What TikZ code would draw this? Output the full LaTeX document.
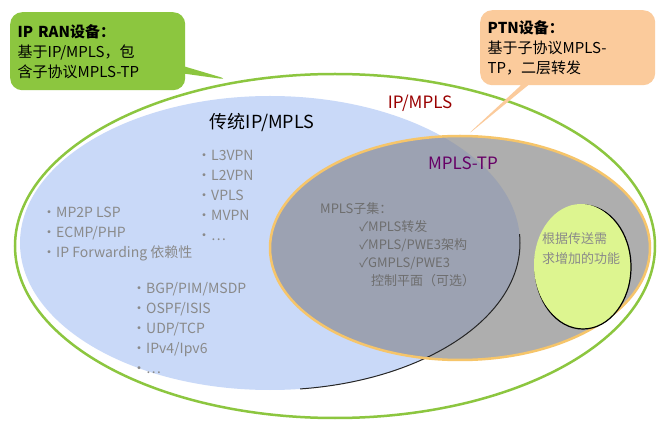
\documentclass[tikz,border=0pt]{standalone}
\usepackage{fontspec}
\setmainfont{Noto Sans CJK SC}
\usetikzlibrary{shapes.callouts}
\definecolor{outg}{HTML}{8CC63F}
\definecolor{blue1}{HTML}{C9D9F8}
\definecolor{grayf}{HTML}{AEAEAE}
\definecolor{ovl}{HTML}{9CA2B2}
\definecolor{orng}{HTML}{F6C56A}
\definecolor{lgreen}{HTML}{DDF590}
\definecolor{peach}{HTML}{FBCB9C}
\definecolor{txtg}{HTML}{8A8A8A}
\definecolor{txtd}{HTML}{6E6E6E}
\tikzset{
 lst/.style={anchor=north west,align=left,text=txtg,font=\fontsize{14}{20}\selectfont,inner sep=0pt},
 lbl/.style={font=\fontsize{17}{19}\selectfont,inner sep=0pt},
 call/.style={rectangle callout,rounded corners=12pt,align=left,anchor=north west,font=\fontsize{15}{20}\selectfont,inner sep=7pt,text width=160pt}
}
\begin{document}
\begin{tikzpicture}[x=1pt,y=-1pt]
\useasboundingbox (0,0) rectangle (662,422);
\fill[white] (0,0) rectangle (662,422);
\draw[outg,line width=2.5pt,fill=white] (335,246) ellipse [x radius=320,y radius=172];
\fill[blue1] (270,243) ellipse [x radius=250,y radius=147];
\fill[grayf] (460,248) ellipse [x radius=190,y radius=112];
\begin{scope}
\clip (270,243) ellipse [x radius=250,y radius=147];
\fill[ovl] (460,248) ellipse [x radius=190,y radius=112];
\end{scope}
\begin{scope}
\clip (300,235) rectangle (540,400);
\draw[black!85,line width=1pt] (270,243) ellipse [x radius=250,y radius=147];
\end{scope}
\draw[orng,line width=2.5pt] (460,248) ellipse [x radius=190,y radius=112];
\draw[black,line width=1.2pt,fill=lgreen] (583,267) ellipse [x radius=48,y radius=62];
\fill[lgreen] (581,265) ellipse [x radius=47,y radius=61];
\node[lbl,text=red!60!black] (ipm) at (420,103) {IP/MPLS};
\node[lbl,font=\fontsize{18}{20}\selectfont] (trad) at (262,123) {传统IP/MPLS};
\node[lbl,text=violet!80!black] (mtp) at (463,163) {MPLS-TP};
\node[lst] (l1) at (197,150) {•L3VPN\\•L2VPN\\•VPLS\\•MVPN\\•…};
\node[lst] (l2) at (42,207) {•MP2P LSP\\•ECMP/PHP\\•IP Forwarding 依赖性};
\node[lst] (l3) at (132,282) {•BGP/PIM/MSDP\\•OSPF/ISIS\\•UDP/TCP\\•IPv4/Ipv6\\•…};
\node[lst,text=txtd,font=\fontsize{13}{18}\selectfont] (sub) at (320,202) {MPLS子集：\\\hspace*{48pt}\llap{✓}MPLS转发\\\hspace*{48pt}\llap{✓}MPLS/PWE3架构\\\hspace*{48pt}\llap{✓}GMPLS/PWE3\\\hspace*{51pt}控制平面（可选）};
\node[lst,text=txtg,font=\fontsize{13}{20}\selectfont] (fn) at (542,232) {根据传送需\\求增加的功能};
\node[call,fill=outg,callout absolute pointer={(230,80)},minimum height=78pt,minimum width=175pt] (c1) at (10,12) {\textbf{IP RAN设备：}\\基于IP/MPLS，包\\含子协议MPLS-TP};
\node[call,fill=peach,callout absolute pointer={(465,137)},minimum height=75pt,minimum width=175pt] (c2) at (480,10) {\textbf{PTN设备：}\\基于子协议MPLS-\\TP，二层转发};
\end{tikzpicture}
\end{document}
